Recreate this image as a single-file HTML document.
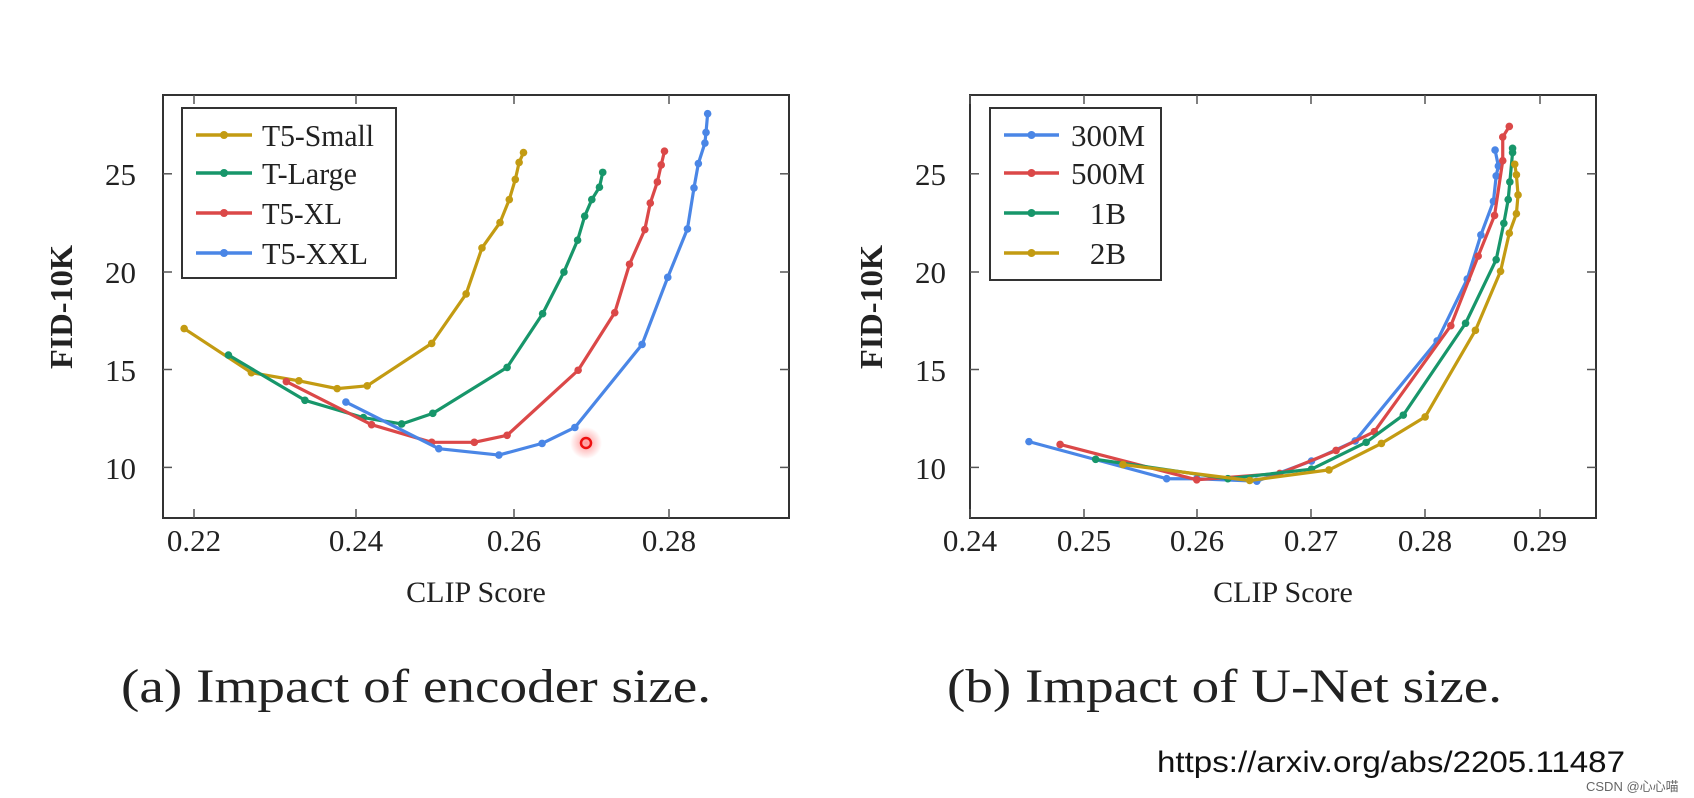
<!DOCTYPE html>
<html><head><meta charset="utf-8">
<style>
html,body{margin:0;padding:0;background:#fff;}
svg{display:block;}
.t{font-family:"Liberation Serif",serif;fill:#222;}
</style></head>
<body>
<svg id="s" width="1694" height="798" viewBox="0 0 1694 798" xmlns="http://www.w3.org/2000/svg">
<rect width="1694" height="798" fill="#fff"/>
<defs>
<radialGradient id="glow"><stop offset="0" stop-color="#ff3030" stop-opacity="0.5"/><stop offset="1" stop-color="#ff3030" stop-opacity="0"/></radialGradient>
</defs>
<g id="g"></g>
<g class="t" font-size="31">
<text x="136" y="185" text-anchor="end">25</text>
<text x="136" y="283" text-anchor="end">20</text>
<text x="136" y="381" text-anchor="end">15</text>
<text x="136" y="479" text-anchor="end">10</text>
<text x="194" y="551" text-anchor="middle">0.22</text>
<text x="356" y="551" text-anchor="middle">0.24</text>
<text x="514" y="551" text-anchor="middle">0.26</text>
<text x="669" y="551" text-anchor="middle">0.28</text>
<text x="476" y="602" text-anchor="middle" font-size="30">CLIP Score</text>
<text transform="translate(72,307) rotate(-90)" text-anchor="middle" font-size="32" font-weight="bold" textLength="124" lengthAdjust="spacingAndGlyphs">FID-10K</text>
<text x="262" y="146" textLength="112" lengthAdjust="spacingAndGlyphs">T5-Small</text>
<text x="262" y="184" textLength="95" lengthAdjust="spacingAndGlyphs">T-Large</text>
<text x="262" y="224" textLength="80" lengthAdjust="spacingAndGlyphs">T5-XL</text>
<text x="262" y="264" textLength="106" lengthAdjust="spacingAndGlyphs">T5-XXL</text>
</g>
<g class="t" font-size="31">
<text x="946" y="185" text-anchor="end">25</text>
<text x="946" y="283" text-anchor="end">20</text>
<text x="946" y="381" text-anchor="end">15</text>
<text x="946" y="479" text-anchor="end">10</text>
<text x="970" y="551" text-anchor="middle">0.24</text>
<text x="1084" y="551" text-anchor="middle">0.25</text>
<text x="1197" y="551" text-anchor="middle">0.26</text>
<text x="1311" y="551" text-anchor="middle">0.27</text>
<text x="1425" y="551" text-anchor="middle">0.28</text>
<text x="1540" y="551" text-anchor="middle">0.29</text>
<text x="1283" y="602" text-anchor="middle" font-size="30">CLIP Score</text>
<text transform="translate(882,307) rotate(-90)" text-anchor="middle" font-size="32" font-weight="bold" textLength="124" lengthAdjust="spacingAndGlyphs">FID-10K</text>
<text x="1108" y="146" text-anchor="middle">300M</text>
<text x="1108" y="184" text-anchor="middle">500M</text>
<text x="1108" y="224" text-anchor="middle">1B</text>
<text x="1108" y="264" text-anchor="middle">2B</text>
</g>
<g class="t" font-size="48">
<text x="121" y="702" textLength="590" lengthAdjust="spacingAndGlyphs">(a) Impact of encoder size.</text>
<text x="947" y="702" textLength="555" lengthAdjust="spacingAndGlyphs">(b) Impact of U-Net size.</text>
</g>
<text x="1157" y="772" font-family="Liberation Sans, sans-serif" font-size="30" fill="#111" textLength="468" lengthAdjust="spacingAndGlyphs">https://arxiv.org/abs/2205.11487</text>
<text x="1586" y="791" font-family="Liberation Sans, 'Noto Sans CJK SC', sans-serif" font-size="13" fill="#666">CSDN @心心喵</text>
</svg>
<script>
const g=document.getElementById('g');
const NS='http://www.w3.org/2000/svg';
function el(n,a){const e=document.createElementNS(NS,n);for(const k in a)e.setAttribute(k,a[k]);g.appendChild(e);return e;}
function frame(x1,x2,xt){
  el('rect',{x:x1,y:95,width:x2-x1,height:423,fill:'none',stroke:'#333','stroke-width':2});
  [173.8,272,369.5,467.4].forEach(y=>{el('line',{x1:x1,y1:y,x2:x1+9,y2:y,stroke:'#555','stroke-width':1.5});el('line',{x1:x2,y1:y,x2:x2-9,y2:y,stroke:'#555','stroke-width':1.5});});
  xt.forEach(x=>{el('line',{x1:x,y1:518,x2:x,y2:509,stroke:'#555','stroke-width':1.5});el('line',{x1:x,y1:95,x2:x,y2:104,stroke:'#555','stroke-width':1.5});});
}
frame(163,789,[194,356,514,669]);
frame(970,1596,[970,1084,1197,1311,1425,1540]);
function series(pts,off,col){
  const p=pts.map(q=>[off+q[0]/1.83,60+q[1]/2.83]);
  el('polyline',{points:p.map(q=>q.join(',')).join(' '),fill:'none',stroke:col,'stroke-width':3.2,'stroke-linejoin':'round'});
  p.forEach(q=>el('circle',{cx:q[0],cy:q[1],r:3.8,fill:col}));
}
const GOLD='#c39b12',GREEN='#17966a',RED='#db4848',BLUE='#4a86e6';
series([[337,760],[460,885],[547,908],[617,930],[672,922],[790,802],[853,662],[882,532],[915,460],[932,395],[943,338],[950,290],[958,262]],0,GOLD);
series([[418,835],[558,963],[665,1012],[735,1030],[792,1000],[928,870],[993,718],[1032,600],[1057,510],[1070,442],[1083,395],[1097,360],[1103,318]],0,GREEN);
series([[524,910],[680,1032],[790,1082],[868,1082],[928,1062],[1058,878],[1125,715],[1152,578],[1180,480],[1190,405],[1203,345],[1210,297],[1216,258]],0,RED);
series([[633,968],[803,1100],[913,1118],[992,1085],[1052,1040],[1175,805],[1222,615],[1258,478],[1270,362],[1278,293],[1290,235],[1292,205],[1295,152]],0,BLUE);
series([[333,1080],[585,1185],[640,1185],[750,1192],[850,1135],[930,1078],[1080,795],[1135,620],[1160,495],[1183,400],[1188,328],[1192,300],[1186,255]],847,BLUE);
series([[390,1088],[640,1188],[792,1170],[895,1105],[965,1052],[1105,752],[1155,555],[1185,440],[1200,285],[1200,218],[1212,188]],847,RED);
series([[455,1130],[697,1185],[850,1158],[950,1082],[1018,1005],[1132,745],[1188,565],[1202,462],[1210,395],[1213,345],[1218,262],[1218,250]],847,GREEN);
series([[505,1145],[737,1190],[882,1160],[978,1085],[1058,1010],[1150,765],[1196,598],[1212,490],[1225,435],[1228,382],[1225,325],[1222,295]],847,GOLD);
function legend(x,y,w,h,lx1,lx2,cols){
  el('rect',{x:x,y:y,width:w,height:h,fill:'#fff',stroke:'#333','stroke-width':2});
  [135,173,213,253].forEach((yy,i)=>{el('line',{x1:lx1,y1:yy,x2:lx2,y2:yy,stroke:cols[i],'stroke-width':3.5});el('circle',{cx:(lx1+lx2)/2,cy:yy,r:4,fill:cols[i]});});
}
legend(182,108,214,170,196,252,[GOLD,GREEN,RED,BLUE]);
legend(990,108,171,172,1004,1059,[BLUE,RED,GREEN,GOLD]);
el('circle',{cx:586,cy:443,r:16,fill:'url(#glow)'});
el('circle',{cx:586,cy:443,r:5,fill:'none',stroke:'#ee1111','stroke-width':2.5});
const s=document.getElementById('s');
[...s.querySelectorAll('g.t, text')].forEach(n=>{if(n.parentNode===s)s.appendChild(n);});
</script>
</body></html>
